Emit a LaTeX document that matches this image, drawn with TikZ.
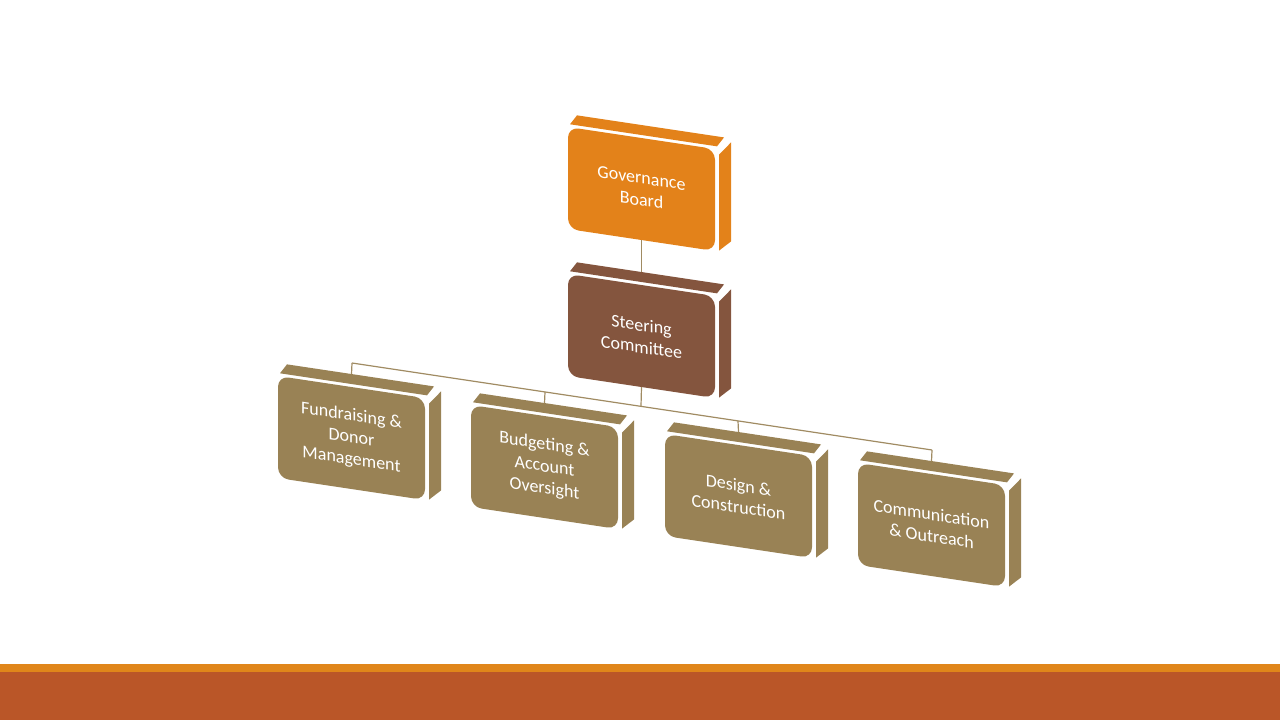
\documentclass[tikz,border=0pt]{standalone}
\usepackage{fontspec}
\setmainfont{Carlito}
\begin{document}
\definecolor{gov}{HTML}{E3821A}
\definecolor{steer}{HTML}{84553E}
\definecolor{team}{HTML}{998255}
\definecolor{line}{HTML}{A08B62}
\definecolor{barO}{HTML}{E0861A}
\definecolor{barR}{HTML}{BA5628}
\tikzset{
 conn/.style={draw=line, line width=0.9pt},
 lbl/.style={text=white, align=center, font=\fontsize{13.5}{16.5}\selectfont, transform shape},
}
\newcommand\skbox[5]{%
 \begin{scope}[shift={(#2,#3)}, yslant=-0.15]
  \fill[#4] (9,-13) -- (156,-13) -- (149,-3) -- (2,-3) -- cycle;
  \fill[#4] (151,5) -- (163,-9) -- (163,90) -- (151,101) -- cycle;
  \fill[#4, rounded corners=8pt] (0,0) rectangle (147,102);
  \node[lbl] (#1) at (73.5,51) {#5};
  \coordinate (#1-t) at (73.5,-13);
  \coordinate (#1-b) at (73.5,102);
 \end{scope}}
\begin{tikzpicture}[x=0.75pt,y=-0.75pt]
\useasboundingbox (0,0) rectangle (1280,720);
\fill[barO] (0,664) rectangle (1280,672);
\fill[barR] (0,672) rectangle (1280,720);
\coordinate (bl) at (352,363);
\coordinate (br) at (932,450);
\draw[conn] (bl) -- (br);
\coordinate (b1) at (545,392);
\coordinate (b2) at (641,406);
\coordinate (b3) at (738,421);
\skbox{gb}{568}{127}{gov}{Governance\\Board}
\skbox{sc}{568}{274}{steer}{Steering\\Committee}
\draw[conn] (gb-b) -- (sc-t);
\draw[conn] (sc-b) -- (b2);
\skbox{fd}{278}{376}{team}{Fundraising \&\\Donor\\Management}
\skbox{ba}{471}{405}{team}{Budgeting \&\\Account\\Oversight}
\skbox{dc}{665}{434}{team}{Design \&\\Construction}
\skbox{co}{858}{463}{team}{Communication\\\& Outreach}
\draw[conn] (bl) -- (fd-t);
\draw[conn] (b1) -- (ba-t);
\draw[conn] (b3) -- (dc-t);
\draw[conn] (br) -- (co-t);
\end{tikzpicture}
\end{document}
